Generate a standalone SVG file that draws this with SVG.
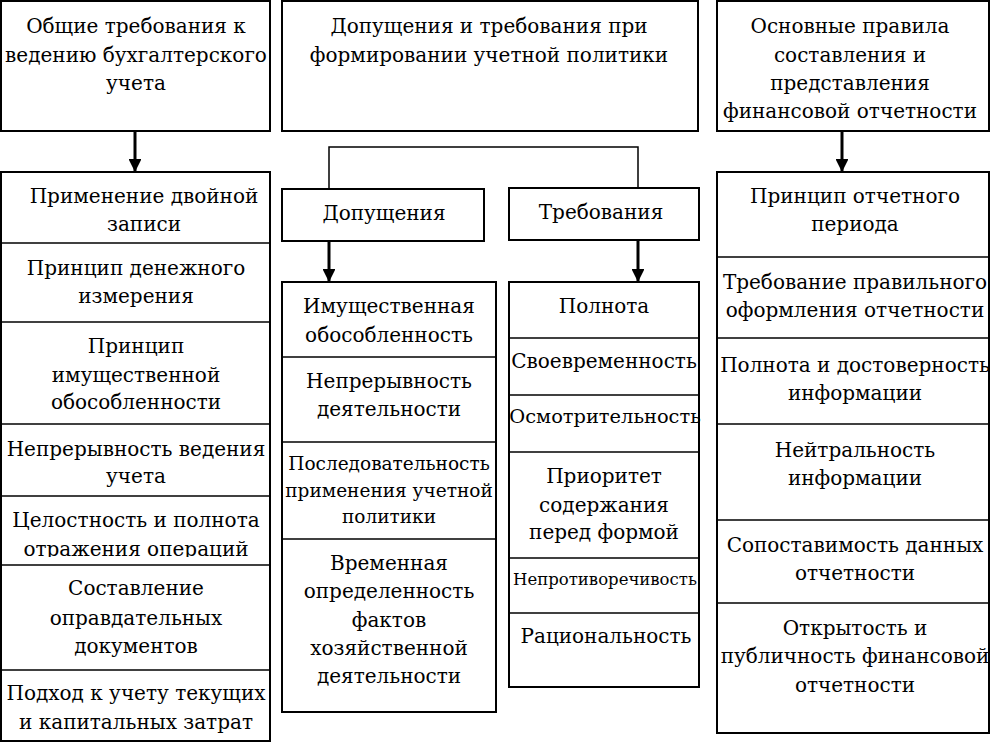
<svg xmlns="http://www.w3.org/2000/svg" width="991" height="743" viewBox="0 0 991 743">
<defs>
<style>
.box{fill:#fff;stroke:#000;stroke-width:2}
.div{stroke:#000;stroke-width:1.5;fill:none}
.t{font-family:'DejaVu Serif',serif;font-size:20px;fill:#000;text-anchor:middle}
.s{font-size:18.5px}
.m{font-size:19.4px}
.xs{font-size:16.5px}
.con{stroke:#000;fill:none}
</style>
<marker id="ah" viewBox="0 0 10 10" refX="10" refY="5" markerWidth="4.3" markerHeight="4.3" orient="auto" markerUnits="strokeWidth">
<path d="M0,0 L10,5 L0,10 Z" fill="#000"/>
</marker>
<clipPath id="clipL"><rect x="0" y="496" width="272" height="61"/></clipPath>
</defs>
<rect width="991" height="743" fill="#fff"/>

<g id="connectors">
<line class="con" x1="135" y1="131" x2="135" y2="172" stroke-width="3" marker-end="url(#ah)"/>
<line class="con" x1="842" y1="131" x2="842" y2="172" stroke-width="3" marker-end="url(#ah)"/>
<polyline class="con" points="329,189 329,147 638,147 638,188" stroke-width="1.5"/>
<line class="con" x1="329" y1="241" x2="329" y2="282" stroke-width="3" marker-end="url(#ah)"/>
<line class="con" x1="638" y1="240" x2="638" y2="282" stroke-width="3" marker-end="url(#ah)"/>
</g>

<g id="n-general">
<rect class="box" x="1" y="1" width="269" height="130"/>
<text class="t" x="136" y="33">Общие требования к</text>
<text class="t" x="136" y="62">ведению бухгалтерского</text>
<text class="t" x="136" y="90">учета</text>
</g>

<g id="n-assumptions-top">
<rect class="box" x="282" y="1" width="416" height="130"/>
<text class="t" x="489" y="33">Допущения и требования при</text>
<text class="t" x="489" y="62">формировании учетной политики</text>
</g>

<g id="n-rules">
<rect class="box" x="717" y="1" width="272" height="130"/>
<text class="t" x="850" y="33">Основные правила</text>
<text class="t" x="850" y="62">составления и</text>
<text class="t" x="850" y="90">представления</text>
<text class="t" x="850" y="118">финансовой отчетности</text>
</g>

<g id="n-dop">
<rect class="box" x="282" y="189" width="202" height="52"/>
<text class="t" x="384" y="220">Допущения</text>
</g>

<g id="n-treb">
<rect class="box" x="509" y="188" width="190" height="52"/>
<text class="t" x="601" y="219">Требования</text>
</g>

<g id="n-left-stack">
<rect class="box" x="1" y="172" width="269" height="569"/>
<line class="div" x1="1" y1="243" x2="270" y2="243"/>
<line class="div" x1="1" y1="322" x2="270" y2="322"/>
<line class="div" x1="1" y1="424" x2="270" y2="424"/>
<line class="div" x1="1" y1="496" x2="270" y2="496"/>
<line class="div" x1="1" y1="565" x2="270" y2="565"/>
<line class="div" x1="1" y1="670" x2="270" y2="670"/>
<text class="t" x="144" y="203">Применение двойной</text>
<text class="t" x="144" y="231">записи</text>
<text class="t" x="136" y="275">Принцип денежного</text>
<text class="t" x="136" y="303">измерения</text>
<text class="t" x="136" y="353">Принцип</text>
<text class="t" x="136" y="382">имущественной</text>
<text class="t" x="136" y="409">обособленности</text>
<text class="t" x="136" y="456">Непрерывность ведения</text>
<text class="t" x="136" y="483">учета</text>
<g clip-path="url(#clipL)">
<text class="t" x="136" y="527">Целостность и полнота</text>
<text class="t" x="136" y="556">отражения операций</text>
</g>
<text class="t" x="136" y="595">Составление</text>
<text class="t" x="136" y="625">оправдательных</text>
<text class="t" x="136" y="653">документов</text>
<text class="t" x="136" y="700">Подход к учету текущих</text>
<text class="t" x="136" y="729">и капитальных затрат</text>
</g>

<g id="n-dop-stack">
<rect class="box" x="282" y="282" width="214" height="430"/>
<line class="div" x1="282" y1="357" x2="496" y2="357"/>
<line class="div" x1="282" y1="442" x2="496" y2="442"/>
<line class="div" x1="282" y1="539" x2="496" y2="539"/>
<text class="t" x="389" y="313">Имущественная</text>
<text class="t" x="389" y="342">обособленность</text>
<text class="t" x="389" y="388">Непрерывность</text>
<text class="t" x="389" y="416">деятельности</text>
<text class="t s" x="389" y="470">Последовательность</text>
<text class="t s" x="389" y="497">применения учетной</text>
<text class="t s" x="389" y="523">политики</text>
<text class="t" x="389" y="570">Временная</text>
<text class="t" x="389" y="598">определенность</text>
<text class="t" x="389" y="627">фактов</text>
<text class="t" x="389" y="655">хозяйственной</text>
<text class="t" x="389" y="683">деятельности</text>
</g>

<g id="n-treb-stack">
<rect class="box" x="509" y="282" width="190" height="405"/>
<line class="div" x1="509" y1="338" x2="699" y2="338"/>
<line class="div" x1="509" y1="395" x2="699" y2="395"/>
<line class="div" x1="509" y1="452" x2="699" y2="452"/>
<line class="div" x1="509" y1="558" x2="699" y2="558"/>
<line class="div" x1="509" y1="613" x2="699" y2="613"/>
<text class="t" x="604" y="313">Полнота</text>
<text class="t" x="604" y="368">Своевременность</text>
<text class="t m" x="605" y="423">Осмотрительность</text>
<text class="t" x="604" y="483">Приоритет</text>
<text class="t" x="604" y="512">содержания</text>
<text class="t" x="604" y="539">перед формой</text>
<text class="t xs" x="605" y="585">Непротиворечивость</text>
<text class="t" x="606" y="643">Рациональность</text>
</g>

<g id="n-rules-stack">
<rect class="box" x="717" y="172" width="272" height="561"/>
<line class="div" x1="717" y1="257" x2="989" y2="257"/>
<line class="div" x1="717" y1="338" x2="989" y2="338"/>
<line class="div" x1="717" y1="424" x2="989" y2="424"/>
<line class="div" x1="717" y1="520" x2="989" y2="520"/>
<line class="div" x1="717" y1="603" x2="989" y2="603"/>
<text class="t" x="855" y="203">Принцип отчетного</text>
<text class="t" x="855" y="231">периода</text>
<text class="t" x="855" y="289">Требование правильного</text>
<text class="t" x="855" y="317">оформления отчетности</text>
<text class="t" x="855" y="372">Полнота и достоверность</text>
<text class="t" x="855" y="400">информации</text>
<text class="t" x="855" y="457">Нейтральность</text>
<text class="t" x="855" y="485">информации</text>
<text class="t" x="855" y="552">Сопоставимость данных</text>
<text class="t" x="855" y="580">отчетности</text>
<text class="t" x="855" y="635">Открытость и</text>
<text class="t" x="855" y="663">публичность финансовой</text>
<text class="t" x="855" y="692">отчетности</text>
</g>
</svg>
